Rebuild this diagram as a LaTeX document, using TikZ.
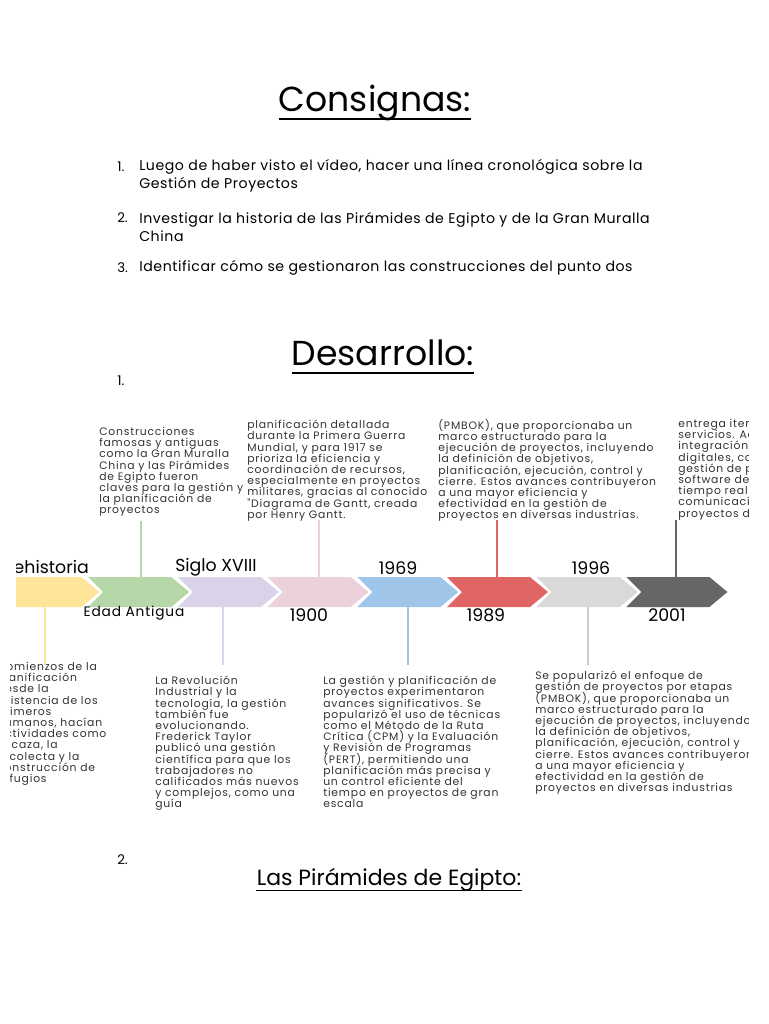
\documentclass[tikz,border=0pt]{standalone}
\usepackage{fontspec}
\setmainfont{Poppins}
\newfontfamily\tlf{Poppins}[LetterSpace=7.5]
\newfontfamily\lbf{Poppins}[LetterSpace=6]
\newfontfamily\lsf{Poppins}[LetterSpace=4]
\newcommand\tlfont{\tlf\fontsize{8.1pt}{8.4pt}\selectfont\lineskiplimit -20pt\lineskip 0pt\relax}
\definecolor{txt}{HTML}{333333}
\definecolor{cyel}{HTML}{FFE599}
\definecolor{cgre}{HTML}{B6D7A8}
\definecolor{cpur}{HTML}{D9D2E9}
\definecolor{cpin}{HTML}{EAD1DC}
\definecolor{cblu}{HTML}{9FC5E8}
\definecolor{cred}{HTML}{E06666}
\definecolor{clgr}{HTML}{D9D9D9}
\definecolor{cdgr}{HTML}{666666}
\definecolor{clgl}{HTML}{CCCCCC}
\begin{document}
\begin{tikzpicture}[x=0.75pt,y=-0.75pt,
  tl/.style={anchor=north west, inner sep=0pt, align=left, text=txt, font=\tlfont},
  listtxt/.style={anchor=west, inner sep=0pt, align=left, text=black,
    font=\lsf\fontsize{10.6pt}{13.5pt}\selectfont},
  numtxt/.style={anchor=west, inner sep=0pt, text=black,
    font=\fontsize{10pt}{12pt}\selectfont},
  title/.style={inner sep=0pt, text=black, font=\fontsize{26pt}{30pt}\selectfont},
  uline/.style={line width=1.2pt, black},
  lab/.style={inner sep=0pt, text=black, font=\fontsize{13pt}{15pt}\selectfont},
  conn/.style={line width=1.9pt}]
\useasboundingbox[fill=white] (0,0) rectangle (768,1024);

% ---- headings ----
\node[title] (t1) at (375,103) {Consignas:};
\draw[uline] ([yshift=-5.5pt]t1.base west) -- ([yshift=-5.5pt]t1.base east);
\node[numtxt] (n1) at (117,167) {1.};
\node[listtxt] (l1) at (139,176) {Luego de haber visto el vídeo, hacer una línea cronológica sobre la\\Gestión de Proyectos};
\node[numtxt] (n2) at (117,218) {2.};
\node[listtxt] (l2) at (139,227) {Investigar la historia de las Pirámides de Egipto y de la Gran Muralla\\China};
\node[numtxt] (n3) at (117,268) {3.};
\node[listtxt] (l3) at (139,268) {Identificar cómo se gestionaron las construcciones del punto dos};

\node[title] (t2) at (383,353) {Desarrollo:};
\draw[uline] ([yshift=-5.5pt]t2.base west) -- ([yshift=-5.5pt]t2.base east);
\node[numtxt] (n4) at (117,381) {1.};

\node[numtxt] (n5) at (117,860) {2.};
\node[title, font=\fontsize{16.5pt}{20pt}\selectfont] (t3) at (389,880) {Las Pirámides de Egipto:};
\draw[uline, line width=0.9pt] ([yshift=-3.5pt]t3.base west) -- ([yshift=-3.5pt]t3.base east);

% ---- chevrons ----
\begin{scope}
\clip (16,550) rectangle (748,620);
\foreach \L/\c in {-1.5/cyel, 88.2/cgre, 177.9/cpur, 267.6/cpin, 357.3/cblu, 447/cred, 536.7/clgr, 626.4/cdgr}
  \fill[\c] (\L,577) -- ++(83,0) -- ++(18,15) -- ++(-18,15) -- ++(-83,0) -- ++(15,-15) -- cycle;
\node[lab, anchor=east] (p0) at (89,567) {Prehistoria};
\end{scope}

\coordinate (cyb) at (45,607);
\coordinate (cgt) at (141,577);
\coordinate (cpb) at (223,607);
\coordinate (cit) at (319,577);
\coordinate (cbb) at (408,607);
\coordinate (crt) at (497,577);
\coordinate (clb) at (588,607);
\coordinate (cdt) at (676,577);

\begin{scope}
\clip (10,400) rectangle (748,830);
% period labels
\node[lab, font=\lbf\fontsize{10.3pt}{12pt}\selectfont] (p1) at (134,613) {Edad Antigua};
\node[lab] (p2) at (216,567) {Siglo XVIII};
\node[lab] (p3) at (309,615) {1900};
\node[lab] (p4) at (398,568) {1969};
\node[lab] (p5) at (486,615) {1989};
\node[lab] (p6) at (591,568) {1996};
\node[lab] (p7) at (667,615) {2001};

% top texts
\node[tl] (x1) at (99,427) {Construcciones\\famosas y antiguas\\como la Gran Muralla\\China y las Pirámides\\de Egipto fueron\\claves para la gestión y\\la planificación de\\proyectos};
\node[tl] (x3) at (247,420) {planificación detallada\\durante la Primera Guerra\\Mundial, y para 1917 se\\prioriza la eficiencia y\\coordinación de recursos,\\especialmente en proyectos\\militares, gracias al conocido\\"Diagrama de Gantt, creada\\por Henry Gantt.};
\node[tl] (x5) at (438,419) {(PMBOK), que proporcionaba un\\marco estructurado para la\\ejecución de proyectos, incluyendo\\la definición de objetivos,\\planificación, ejecución, control y\\cierre. Estos avances contribuyeron\\a una mayor eficiencia y\\efectividad en la gestión de\\proyectos en diversas industrias.};
\node[tl] (x7) at (678,419) {entrega iterativa de\\servicios. Además, la\\integración de las\\digitales, como el\\gestión de proyectos\\software de gestión\\tiempo real y la\\comunicación en los\\proyectos de todo};

% bottom texts
\node[tl] (x0) at (-3,662) {Comienzos de la\\planificación\\desde la\\existencia de los\\primeros\\humanos, hacían\\actividades como\\la caza, la\\recolecta y la\\construcción de\\refugios};
\node[tl] (x2) at (155,676) {La Revolución\\Industrial y la\\tecnología, la gestión\\también fue\\evolucionando.\\Frederick Taylor\\publicó una gestión\\científica para que los\\trabajadores no\\calificados más nuevos\\y complejos, como una\\guía};
\node[tl] (x4) at (323,676) {La gestión y planificación de\\proyectos experimentaron\\avances significativos. Se\\popularizó el uso de técnicas\\como el Método de la Ruta\\Crítica (CPM) y la Evaluación\\y Revisión de Programas\\(PERT), permitiendo una\\planificación más precisa y\\un control eficiente del\\tiempo en proyectos de gran\\escala};
\node[tl] (x6) at (535,671) {Se popularizó el enfoque de\\gestión de proyectos por etapas\\(PMBOK), que proporcionaba un\\marco estructurado para la\\ejecución de proyectos, incluyendo\\la definición de objetivos,\\planificación, ejecución, control y\\cierre. Estos avances contribuyeron\\a una mayor eficiencia y\\efectividad en la gestión de\\proyectos en diversas industrias};
\end{scope}

% connectors
\draw[conn, cyel] (cyb) -- (cyb |- 0,665);
\draw[conn, cgre] (cgt) -- (cgt |- 0,521);
\draw[conn, cpur] (cpb) -- (cpb |- 0,665);
\draw[conn, cpin] (cit) -- (cit |- 0,520);
\draw[conn, cblu] (cbb) -- (cbb |- 0,665);
\draw[conn, cred] (crt) -- (crt |- 0,520);
\draw[conn, clgl] (clb) -- (clb |- 0,665);
\draw[conn, cdgr] (cdt) -- (cdt |- 0,520);
\end{tikzpicture}
\end{document}
